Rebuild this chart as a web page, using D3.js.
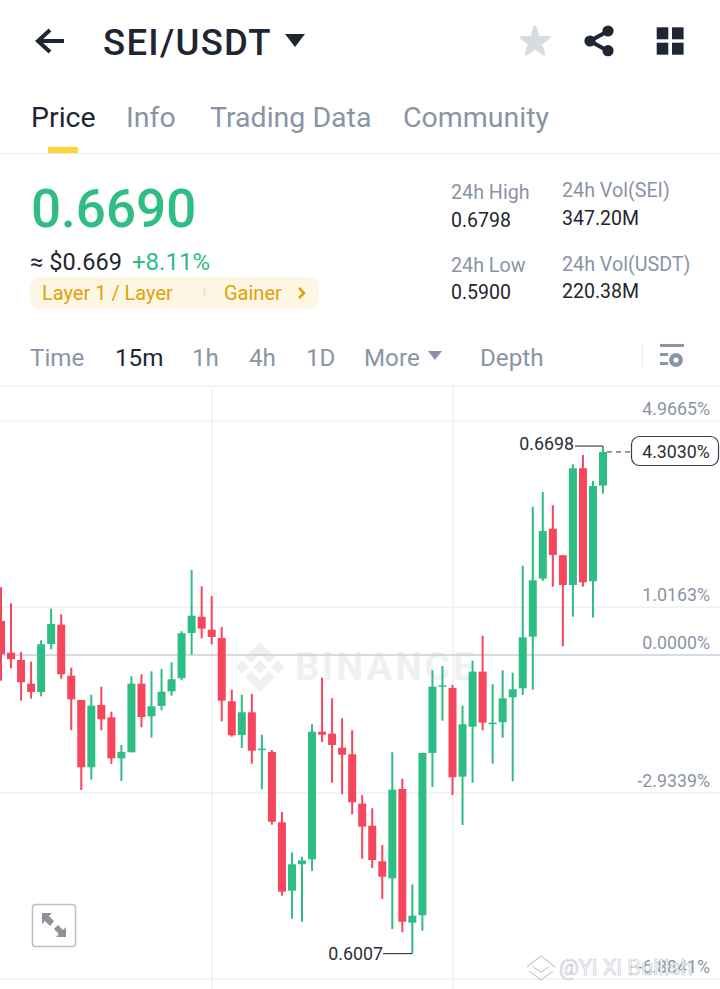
<!DOCTYPE html>
<html><head><meta charset="utf-8">
<script src="https://cdn.jsdelivr.net/npm/d3@7/dist/d3.min.js"></script>
<style>html,body{margin:0;padding:0;background:#fff}svg{display:block}text{font-family:Roboto,sans-serif}</style>
</head><body><svg id="c" width="720" height="989" viewBox="0 0 720 989"></svg>
<script>
const basePrice = 0.6414;
const opens = [.64597,.64165,.64065,.63742,.63629,.64283,.64546,.63851,.6352,.62603,.63452,.63284,.62725,.62807,.63742,.63298,.63438,.63638,.63816,.64433,.64655,.64478,.64365,.63502,.63043,.63352,.62838,.62811,.61853,.60921,.61281,.61349,.63088,.63061,.6287,.6278,.62107,.61807,.61322,.6109,.62307,.60485,.60586,.62798,.63707,.63683,.62475,.63156,.63906,.63189,.63216,.63557,.63679,.64383,.65173,.65855,.65492,.65087,.66678,.65138,.66441];
const highs = [.65056,.64838,.64174,.64042,.64334,.64764,.64688,.6396,.6352,.63592,.63701,.6336,.62907,.63843,.6387,.63911,.63942,.64034,.64456,.65292,.65069,.64937,.64515,.6366,.63592,.63602,.63047,.62838,.61993,.61444,.61384,.63189,.63824,.63543,.6327,.63107,.62225,.62044,.61544,.62807,.62447,.61008,.62802,.63925,.63983,.63724,.63442,.64056,.64396,.63734,.63925,.63892,.6535,.66154,.66355,.66173,.65492,.66732,.66859,.66505,.6698];
const lows = [.63783,.63952,.6351,.63538,.6357,.64211,.6381,.63107,.62293,.62434,.63107,.62648,.62416,.62807,.63148,.63006,.63379,.63578,.63788,.64137,.64361,.64279,.6323,.6302,.62866,.62652,.62303,.6182,.60853,.60539,.60498,.61189,.62947,.62393,.62235,.61962,.61357,.6123,.60808,.60399,.60354,.6007,.60376,.62334,.63238,.62225,.61816,.62393,.63107,.62652,.63006,.62412,.63588,.6366,.65142,.65064,.64252,.64655,.65064,.64642,.66332];
const closes = [.64143,.64075,.63761,.63629,.64279,.64556,.6387,.63529,.62603,.63442,.63257,.62725,.62811,.63742,.63288,.63434,.63633,.63802,.64429,.64669,.64492,.64379,.6351,.63039,.63352,.62829,.62856,.61861,.60907,.61281,.61335,.63088,.63047,.62907,.62774,.62126,.61793,.61339,.61112,.62297,.60498,.6058,.62798,.63701,.6372,.62466,.63189,.63906,.63211,.63211,.63543,.63666,.64374,.65151,.65823,.65496,.65087,.66678,.65124,.66436,.669];
const pctTicks = [4.9665, 1.0163, 0, -2.9339, -6.8841];
const tabs = ["Price","Info","Trading Data","Community"];
const ranges = ["Time","15m","1h","4h","1D","More","Depth"];
const lastPct = 4.3030, highLabel = 0.6698, lowLabel = 0.6007;

const GREEN="#2EBD85", RED="#F6465D", INK="#1E2633", GREY="#8A94A6", GRID="#EFF1F3";
const svg = d3.select("#c");
const T=(s,x,y,size,fill,opt={})=>svg.append("text").attr("x",x).attr("y",y).attr("font-size",size).attr("fill",fill)
  .attr("font-weight",opt.w||400).attr("text-anchor",opt.a||"start").attr("letter-spacing",opt.ls||0).text(s);
const L=(x1,y1,x2,y2,c,w=1)=>svg.append("line").attr("x1",x1).attr("y1",y1).attr("x2",x2).attr("y2",y2).attr("stroke",c).attr("stroke-width",w);

// ---- header
svg.append("path").attr("d","M64 41H38M50 30L38 41L50 52").attr("fill","none").attr("stroke",INK).attr("stroke-width",4);
T("SEI/USDT",103,55,36.5,INK,{w:500,ls:1.3});
svg.append("path").attr("d","M285 34H305L295 47Z").attr("fill",INK);
svg.append("path").attr("d",d3.symbol(d3.symbolStar,250)()).attr("transform","translate(535,42)").attr("fill","#D8DBE0").attr("stroke","#D8DBE0").attr("stroke-width",3).attr("stroke-linejoin","round");
svg.append("path").attr("d","M608 31L590 41L608 51").attr("fill","none").attr("stroke",INK).attr("stroke-width",4);
[[608,31],[590,41],[608,50.7]].forEach(p=>svg.append("circle").attr("cx",p[0]).attr("cy",p[1]).attr("r",5.6).attr("fill",INK));
[[656.7,27.3],[672,27.3],[656.7,42.7],[672,42.7]].forEach(p=>svg.append("rect").attr("x",p[0]).attr("y",p[1]).attr("width",11.6).attr("height",12).attr("fill",INK));

const tabX=[31,126,210,403];
tabs.forEach((t,i)=>T(t,tabX[i],127,28.5,i?GREY:INK));
svg.append("rect").attr("x",48).attr("y",147).attr("width",30).attr("height",6).attr("fill","#FCD535");
L(0,153.5,720,153.5,"#EAECEF");

// ---- price block
T("0.6690",31,227,53,GREEN,{w:500});
T("≈ $0.669",30,270,23.5,INK,{ls:.1});
T("+8.11%",132,270,24,GREEN);
svg.append("rect").attr("x",30).attr("y",277).attr("width",289).attr("height",32).attr("rx",10).attr("fill","#FDF6E3");
T("Layer 1 / Layer",42,300,20,"#DDA20A");
L(204.5,288,204.5,297,"#EFE3C0",2);
T("Gainer",224,300,20,"#DDA20A");
svg.append("path").attr("d","M299 288L304 293L299 298").attr("fill","none").attr("stroke","#DDA20A").attr("stroke-width",2.5);
T("24h High",451,199,19.7,GREY); T("0.6798",451,227,19.5,INK);
T("24h Vol(SEI)",562,197,19.7,GREY); T("347.20M",562,225,19.5,INK);
T("24h Low",451,272,19.7,GREY); T("0.5900",451,299,19.5,INK);
T("24h Vol(USDT)",562,271,19.7,GREY); T("220.38M",562,298,19.5,INK);

const rangeX=[30,115,192,249,306,364,480];
ranges.forEach((t,i)=>T(t,rangeX[i],365.5,24.2,i==1?INK:GREY));
svg.append("path").attr("d","M428 351H442L435 360Z").attr("fill",GREY);
L(642.5,342,642.5,367,"#E6E8EB");
svg.append("rect").attr("x",660).attr("y",344).attr("width",24).attr("height",3).attr("fill",GREY);
svg.append("rect").attr("x",660).attr("y",353).attr("width",8).attr("height",3).attr("fill",GREY);
svg.append("rect").attr("x",660).attr("y",362).attr("width",8).attr("height",3).attr("fill",GREY);
svg.append("path").attr("d",d3.symbol(d3.symbolCircle,150)()).attr("transform","translate(676,360)").attr("fill",GREY);
svg.append("circle").attr("cx",676).attr("cy",360).attr("r",2.6).attr("fill","#fff");
L(0,386,720,386,"#F0F1F3",1.5);

// ---- chart scales
const yPct = d3.scaleLinear().domain([-6.8841,4.9665]).range([978.5,420.7]);
const y = d3.scaleLinear().domain(yPct.domain().map(p=>basePrice*(1+p/100))).range(yPct.range());
const x = d3.scalePoint().domain(d3.range(opens.length)).range([1,603]);

// vertical grid
[212,453].forEach(v=>L(v,386,v,989,GRID,1.5));

// watermark
const wm = svg.append("g").attr("fill","#EEF0F1");
wm.append("path").attr("d","M260 642L275 657L269 663L260 654L251 663L245 657ZM235 667L242 660L249 667L242 674ZM271 667L278 660L285 667L278 674ZM253 667L260 660L267 667L260 674ZM245 677L251 671L260 680L269 671L275 677L260 692Z");
wm.append("text").attr("x",295).attr("y",680).attr("font-size",38).attr("font-weight",700).attr("letter-spacing",3).text("BINANCE");

// horizontal grid + percent labels via axis
const axis = d3.axisLeft(yPct).tickValues(pctTicks).tickSize(720).tickPadding(0)
  .tickFormat(d=>d3.format(".4f")(d).replace("−","-")+"%");
const ax = svg.append("g").attr("transform","translate(720,0)").call(axis);
ax.select(".domain").remove();
ax.selectAll(".tick line").attr("stroke",d=>d===0?"#C9CEDB":GRID).attr("stroke-width",1.5);
ax.selectAll(".tick text").attr("x",-10).attr("dy",-6).attr("font-size",17.8).attr("fill",GREY)
  .attr("font-family","Roboto,sans-serif").attr("text-anchor","end");

// candles
const candles = svg.append("g").selectAll("g").data(d3.range(opens.length)).join("g")
  .attr("fill",i=>closes[i]>=opens[i]?GREEN:RED);
candles.append("rect").attr("x",i=>x(i)-1).attr("width",2)
  .attr("y",i=>y(highs[i])).attr("height",i=>y(lows[i])-y(highs[i]));
candles.append("rect").attr("x",i=>x(i)-4).attr("width",8)
  .attr("y",i=>y(Math.max(opens[i],closes[i])))
  .attr("height",i=>Math.max(1.5,Math.abs(y(opens[i])-y(closes[i]))));

// high / low callouts
const iHi=opens.length-1, iLo=lows.indexOf(d3.min(lows));
L(x(iHi),y(highLabel),575,y(highLabel),"#222");
T(d3.format(".4f")(highLabel),574,450,17.8,"#2B2F36",{a:"end"});
L(x(iLo),y(lowLabel)+.5,383,y(lowLabel)+.5,"#222");
T(d3.format(".4f")(lowLabel),383,960,17.8,"#2B2F36",{a:"end"});

// last value tag
L(607,yPct(lastPct),631,yPct(lastPct),"#333").attr("stroke-dasharray","5 4");
svg.append("rect").attr("x",631.5).attr("y",436.5).attr("width",87).attr("height",29).attr("rx",8).attr("fill","#fff").attr("stroke","#3A3F47").attr("stroke-width",1.2);
T(d3.format(".4f")(lastPct)+"%",676,458,17.8,"#2B2F36",{a:"middle"});

// expand button
svg.append("rect").attr("x",32.5).attr("y",904.5).attr("width",43).attr("height",42).attr("rx",3).attr("fill","#fff").attr("stroke","#B9BEC7").attr("stroke-width",1.5);
svg.append("path").attr("d","M42 913H52L49 916L54 921L50 926L45 921L42 924ZM66 937H56L59 934L54 929L58 925L63 930L66 927Z").attr("fill","#8D929B");

// screenshot watermark
svg.append("path").attr("d","M527 967L533 962L541 956L549 962L555 967M533 967L541 972L549 967M541 980L529 971M541 980L553 971")
  .attr("fill","none").attr("stroke","#C9CDD3").attr("stroke-width",1.2);
svg.append("text").attr("x",559).attr("y",975).attr("font-size",22).attr("fill","#fff").attr("stroke","#C4C8CF").attr("stroke-width",.7).text("@Yi Xi Bullish");
</script></body></html>
